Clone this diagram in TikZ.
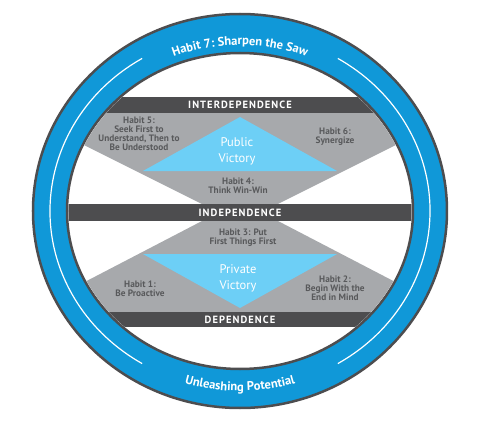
\documentclass[tikz,border=0pt]{standalone}
\usepackage{fontspec}
\setmainfont{PT Sans}
\definecolor{ringblue}{RGB}{16,152,216}
\definecolor{edgegrey}{RGB}{77,77,79}
\definecolor{fieldgrey}{RGB}{167,169,172}
\definecolor{skyblue}{RGB}{109,207,246}
\definecolor{labelgrey}{RGB}{88,89,91}
\usetikzlibrary{positioning, decorations.text}
\tikzset{
  levelbar/.style={fill=edgegrey},
  field/.style={fill=fieldgrey},
  victorytri/.style={fill=skyblue},
  barlabel/.style={text=white, inner sep=0pt,
    font=\bfseries\fontsize{10.5}{11}\selectfont\addfontfeatures{LetterSpace=10}},
  habit/.style={text=labelgrey, align=center, inner sep=0pt,
    font=\bfseries\fontsize{9.3}{9}\selectfont},
  victory/.style={text=white, align=center, inner sep=0pt,
    font=\fontsize{12.5}{16}\selectfont},
  ringlabel/.style={decorate, decoration={text along path, text align=center,
    text={|\bfseries\fontsize{12.5}{13}\selectfont\color{white}|#1}}},
}

\begin{document}
\begin{tikzpicture}[x=1pt, y=1pt]
  \useasboundingbox (-240,-215) rectangle (240,211);

  % outer ring
  \fill[ringblue, even odd rule] (0,0) ellipse[x radius=207, y radius=197]
    (0,0) ellipse[x radius=173, y radius=158];
  \draw[edgegrey, line width=2.5pt] (0,0) ellipse[x radius=207, y radius=197];
  \draw[edgegrey, line width=2.5pt] (0,0) ellipse[x radius=173, y radius=158];
  \draw[white, line width=1.2pt] (121:190 and 178) arc[start angle=121, end angle=239, x radius=190, y radius=178];
  \draw[white, line width=1.2pt] (-59:190 and 178) arc[start angle=-59, end angle=59, x radius=190, y radius=178];
  \path[ringlabel={Habit 7: Sharpen the Saw}]
    (150:181 and 166) arc[start angle=150, end angle=30, x radius=181, y radius=166];
  \path[ringlabel={Unleashing Potential}]
    (212:191 and 180) arc[start angle=212, end angle=328, x radius=191, y radius=180];

  % inside the ring
  \begin{scope}
    \clip (0,0) ellipse[x radius=171.5, y radius=156.5];
    \fill[field] (-220,98) -- (220,98) -- (38,7) -- (-38,7) -- cycle;
    \fill[field] (-38,-10) -- (38,-10) -- (213,-101) -- (-213,-101) -- cycle;
    \fill[victorytri] (0,94) -- (97,40) -- (-97,40) -- cycle;
    \fill[victorytri] (-97,-43) -- (97,-43) -- (0,-97) -- cycle;
    \fill[levelbar] (-240,98) rectangle (240,114);
    \fill[levelbar] (-240,-10) rectangle (240,7);
    \fill[levelbar] (-240,-116) rectangle (240,-101);
  \end{scope}

  \node[barlabel] (interdep) at (0,106) {INTERDEPENDENCE};
  \node[barlabel] (indep) at (0,-1.5) {INDEPENDENCE};
  \node[barlabel] (dep) at (0,-108.5) {DEPENDENCE};

  \node[habit] (habit5) at (-101,77.5) {Habit 5:\\Seek First to\\Understand, Then to\\Be Understood};
  \node[habit] (habit6) at (95,74.5) {Habit 6:\\Synergize};
  \node[habit] (habit4) at (-2,25) {Habit 4:\\Think Win-Win};
  \node[victory] (public) at (-3,60) {Public\\Victory};

  \node[habit] (habit3) at (3,-27) {Habit 3: Put\\First Things First};
  \node[victory] (private) at (-2,-67) {Private\\Victory};
  \node[habit] (habit1) at (-100,-77.5) {Habit 1:\\Be Proactive};
  \node[habit] (habit2) at (95,-77) {Habit 2:\\Begin With the\\End in Mind};
\end{tikzpicture}
\end{document}
